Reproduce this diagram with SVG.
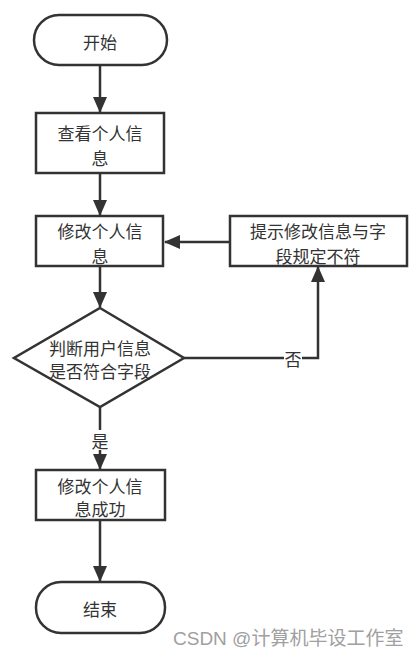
<svg xmlns="http://www.w3.org/2000/svg" width="419" height="658" viewBox="0 0 419 658">
<style>
.n{fill:#fff;stroke:#333;stroke-width:2.5}
.t{font-family:"Noto Sans CJK SC","Liberation Serif",serif;font-size:17px;fill:#333;text-anchor:middle;dominant-baseline:central}
.c{fill:none;stroke:#333;stroke-width:2.5}
.w{font-family:"Liberation Sans","Noto Sans CJK SC",sans-serif;font-size:19px;fill:#a0a0a0}
</style>
<defs>
<marker id="a" viewBox="0 0 16 14" refX="15" refY="7" markerWidth="16" markerHeight="14" markerUnits="userSpaceOnUse" orient="auto">
<path d="M0,0 L16,7 L0,14 Z" fill="#333"/>
</marker>
</defs>
<rect width="419" height="658" fill="#fff"/>
<g id="connectors">
<path class="c" d="M100,65 V112" marker-end="url(#a)"/>
<path class="c" d="M100,173 V215" marker-end="url(#a)"/>
<path class="c" d="M230,242 H165" marker-end="url(#a)"/>
<path class="c" d="M100,266 V307" marker-end="url(#a)"/>
<path class="c" d="M184,358 H318 V267" marker-end="url(#a)"/>
<path class="c" d="M100,407 V469" marker-end="url(#a)"/>
<path class="c" d="M100,520 V581" marker-end="url(#a)"/>
<rect x="284" y="348" width="18" height="20" fill="#fff"/>
<text class="t" x="293" y="358">否</text>
<rect x="91" y="430" width="18" height="20" fill="#fff"/>
<text class="t" x="100" y="440">是</text>
</g>
<g id="start">
<rect class="n" x="34" y="15" width="133" height="50" rx="25"/>
<text class="t" x="100" y="41">开始</text>
</g>
<g id="view">
<rect class="n" x="36" y="113" width="128" height="60"/>
<text class="t" x="100" y="132">查看个人信</text>
<text class="t" x="100" y="157">息</text>
</g>
<g id="edit">
<rect class="n" x="36" y="216" width="127" height="50"/>
<text class="t" x="100" y="230">修改个人信</text>
<text class="t" x="100" y="255">息</text>
</g>
<g id="hint">
<rect class="n" x="230" y="216" width="177" height="50"/>
<text class="t" x="318" y="230">提示修改信息与字</text>
<text class="t" x="318" y="255">段规定不符</text>
</g>
<g id="check">
<path class="n" d="M100,308 L184,358 L100,407 L14,358 Z"/>
<text class="t" x="100" y="347">判断用户信息</text>
<text class="t" x="100" y="370">是否符合字段</text>
</g>
<g id="success">
<rect class="n" x="36" y="470" width="129" height="50"/>
<text class="t" x="100" y="485">修改个人信</text>
<text class="t" x="100" y="508">息成功</text>
</g>
<g id="end">
<rect class="n" x="36" y="582" width="129" height="51" rx="25"/>
<text class="t" x="100" y="608">结束</text>
</g>
<text class="w" x="173" y="645">CSDN @计算机毕设工作室</text>
</svg>
